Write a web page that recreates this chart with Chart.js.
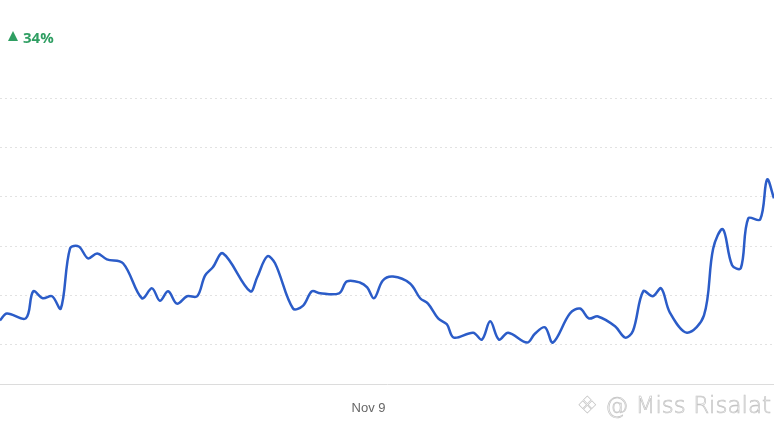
<!DOCTYPE html>
<html>
<head>
<meta charset="utf-8">
<script src="https://cdn.jsdelivr.net/npm/chart.js@4.4.1/dist/chart.umd.min.js"></script>
<style>
  html, body { margin: 0; padding: 0; background: #fff; }
  #wrap { position: relative; width: 774px; height: 434px; overflow: hidden; }
  #change {
    position: absolute; left: 23px; top: 27px;
    font: bold 15px "Open Sans", "Liberation Sans", sans-serif;
    color: #2f9e62;
  }
  #tri {
    position: absolute; left: 8px; top: 31px;
    width: 0; height: 0;
    border-left: 5.5px solid transparent;
    border-right: 5.5px solid transparent;
    border-bottom: 10px solid #2f9e62;
  }
  #mark {
    position: absolute; left: 577px; top: 392px;
    font: 23px "DejaVu Sans", sans-serif;
    font-weight: 200;
    color: #fff;
    -webkit-text-stroke: 0.7px #c4c4c4;
  }
</style>
</head>
<body>
<div id="wrap">
  <canvas id="priceChart" width="774" height="434"></canvas>
  <div id="tri"></div>
  <div id="change">34%</div>
  <div id="mark">❖ @ Miss Risalat</div>
</div>
<script>
// hours since start of the window
const hours = [0, 1.5, 5.6, 7.2, 9.3, 11.3, 13.2, 15.2, 17.1, 19.1, 21.1, 23.2, 26.7, 30.8, 33.0,
  34.7, 36.5, 38.4, 40.6, 42.8, 44.5, 46.2, 48.4, 54.3, 55.8, 58.0, 59.7, 63.6, 65.8, 67.7,
  69.5, 73.6, 75.3, 78.1, 79.7, 81.2, 83.1, 85.3, 89.0, 91.2, 92.9, 95.1, 97.0, 98.5, 102.7,
  104.6, 106.4, 108.3, 110.3, 114.4, 116.1, 118.3, 120.0, 123.7, 125.9, 127.8, 129.8, 133.5,
  135.7, 137.4, 139.6, 141.7, 143.5, 145.4, 149.1, 152.8, 154.8, 156.9, 158.9, 160.8, 162.4,
  165.0, 166.5, 168];
const prices = [14.9, 16.3, 15.3, 20.8, 19.4, 19.8, 17.3, 29.5, 29.9, 27.5, 28.5, 27.3, 26.5, 19.4, 21.4,
  18.9, 20.8, 18.3, 19.8, 19.8, 24.0, 25.7, 28.5, 20.8, 23.6, 27.9, 26.5, 17.3, 17.9, 20.8,
  20.4, 20.4, 22.8, 22.6, 21.6, 19.4, 23.0, 23.8, 22.4, 19.4, 18.3, 15.3, 14.1, 11.4, 12.4,
  11.0, 14.7, 11.0, 12.4, 10.4, 12.2, 13.5, 10.4, 16.3, 17.3, 15.3, 15.7, 13.7,
  11.4, 12.8, 20.8, 19.8, 21.4, 16.5, 12.4, 15.9, 29.5, 33.4, 26.1, 25.5, 35.6,
  35.4, 43.5, 39.7];

const xTickValues = [80];
const xTickLabels = ["Nov 9"];
const yGridValues = [10, 20, 30, 40, 50, 60];

const points = hours.map((h, i) => ({ x: h, y: prices[i] }));

new Chart(document.getElementById("priceChart"), {
  type: "line",
  data: {
    datasets: [{
      data: points,
      borderColor: "#2b5cc8",
      borderWidth: 2.5,
      pointRadius: 0,
      tension: 0.35,
      fill: false
    }]
  },
  options: {
    responsive: false,
    animation: false,
    layout: { padding: { top: 20, left: 0, right: 0, bottom: 2 } },
    plugins: { legend: { display: false }, tooltip: { enabled: false } },
    scales: {
      x: {
        type: "linear",
        min: 0,
        max: 168,
        afterBuildTicks: axis => { axis.ticks = xTickValues.map(v => ({ value: v })); },
        ticks: {
          padding: 16,
          color: "#666",
          font: { family: "Liberation Sans", size: 13 },
          maxRotation: 0,
          callback: value => xTickLabels[xTickValues.indexOf(value)]
        },
        grid: { display: false, drawTicks: false },
        border: { display: true, color: "#dcdcdc", width: 1 }
      },
      y: {
        min: 1.9,
        max: 75.9,
        afterBuildTicks: axis => { axis.ticks = yGridValues.map(v => ({ value: v })); },
        ticks: { display: false },
        grid: { color: "#e2e2e2", lineWidth: 1, drawTicks: false },
        border: { display: false, dash: [2, 3] }
      }
    }
  }
});
</script>
</body>
</html>
